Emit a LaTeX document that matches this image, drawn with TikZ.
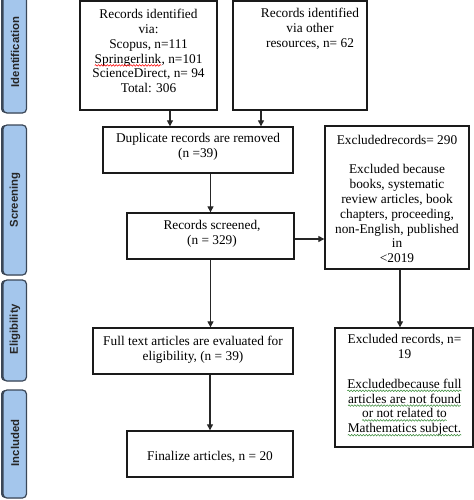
\documentclass[tikz,border=0pt]{standalone}
\usepackage{fontspec}
\setmainfont{Liberation Serif}
\newfontfamily\tabfont{Liberation Sans}
\usetikzlibrary{arrows.meta,decorations.pathmorphing}
\definecolor{tabfill}{HTML}{A4C6EC}
\definecolor{tabline}{HTML}{3B4757}
\definecolor{boxline}{HTML}{1A1A1A}
\definecolor{wavegreen}{HTML}{3C8C3C}
\newcommand\wavy[2]{\tikz[baseline=(w.base)]{\node[inner sep=0pt,outer sep=0pt] (w) {#2};\draw[#1,line width=0.4pt,decorate,decoration={snake,amplitude=0.6pt,segment length=2.2pt}] ([yshift=-1.8pt]w.base west) -- ([yshift=-1.8pt]w.base east);}}
\begin{document}
\begin{tikzpicture}[x=0.75pt,y=-0.75pt,
  box/.style={draw=boxline,line width=1pt,inner sep=0pt,anchor=center},
  txt/.style={inner sep=0pt,align=center,font=\fontsize{10}{11.1}\selectfont},
  arr/.style={draw=black!85,line width=0.8pt,-{Triangle[length=4.5pt,width=4.5pt]}},
  tab/.style={fill=tabfill,draw=tabline,line width=0.9pt,rounded corners=3pt},
  tabshadow/.style={fill=tabline,rounded corners=3pt},
  tabtxt/.style={rotate=90,inner sep=0pt,text=black!85,font=\tabfont\bfseries\fontsize{8.5}{10}\selectfont}]
\useasboundingbox (0,0) rectangle (474,500);
% side tabs
\foreach \a/\b/\c/\t in {-6/113/52/Identification,125/275/200/Screening,280/381/329/Eligibility,390/498/443/Included}{
  \fill[tabshadow] (1,\a) rectangle (25,\b);
  \draw[tab] (3,\a) rectangle (26.5,\b);
  \node[tabtxt] at (15,\c) {\t};
}
% boxes
\node[box,minimum width=102.75pt,minimum height=81.75pt] (b1) at (148.5,55.5) {};
\node[box,minimum width=100.5pt,minimum height=81.75pt] (b2) at (300,55.5) {};
\node[box,minimum width=142.5pt,minimum height=34.5pt] (dup) at (198,150) {};
\node[box,minimum width=125.25pt,minimum height=34.5pt] (scr) at (210.5,236) {};
\node[box,minimum width=108pt,minimum height=107.25pt] (exc) at (397,197.5) {};
\node[box,minimum width=103.5pt,minimum height=89.25pt] (ex19) at (404,387.5) {};
\node[box,minimum width=150pt,minimum height=34.5pt] (full) at (193,351) {};
\node[box,minimum width=124.5pt,minimum height=34.5pt] (fin) at (210,454) {};
% texts
\node[txt] (t1) at (148.5,51) {Records identified\\via:\\Scopus, n=111\\\wavy{red}{Springerlink}, n=101\\ScienceDirect, n= 94\\Total: 306};
\node[txt] (t2) at (310,29) {Records identified\\via other\\resources, n= 62};
\node[txt] (tdup) at (198,146.5) {Duplicate records are removed\\(n =39)};
\node[txt] (tscr) at (212,234) {Records screened,\\(n = 329)};
\node[txt] (texc) at (397,199) {Excludedrecords= 290\\[11.1pt]Excluded because\\books, systematic\\review articles, book\\chapters, proceeding,\\non-English, published\\in\\<2019};
\node[txt] (tex19) at (404.5,385.5) {Excluded records, n=\\19\\[11.1pt]\wavy{wavegreen}{Excludedbecause full}\\\wavy{wavegreen}{articles are not found}\\\wavy{wavegreen}{or not related to}\\\wavy{wavegreen}{Mathematics subject.}};
\node[txt] (tfull) at (193,349.5) {Full text articles are evaluated for\\eligibility, (n = 39)};
\node[txt] (tfin) at (210,457) {Finalize articles, n = 20};
% connectors
\draw[arr] ([xshift=16.1pt]b1.south) -- ([xshift=16.1pt]b1.south |- dup.north);
\draw[arr] ([xshift=-29.25pt]b2.south) -- ([xshift=-29.25pt]b2.south |- dup.north);
\draw[arr] (dup.south -| scr.north) -- (scr.north);
\draw[arr] ([yshift=-2.25pt]scr.east) -- ([yshift=-2.25pt]scr.east -| exc.west);
\draw[arr] ([xshift=2.25pt]exc.south) -- ([xshift=2.25pt]exc.south |- ex19.north);
\draw[arr] (scr.south) -- (scr.south |- full.north);
\draw[arr] (full.south -| fin.north) -- (fin.north);
\end{tikzpicture}
\end{document}
